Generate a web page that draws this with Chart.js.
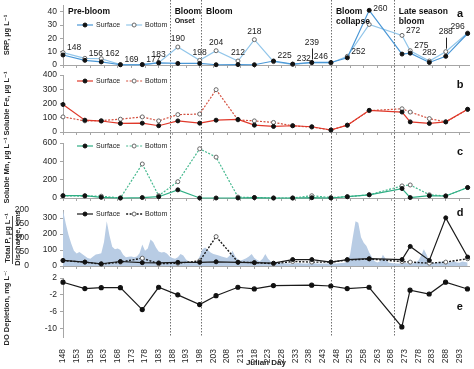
<!DOCTYPE html>
<html>
<head>
<meta charset="utf-8">
<script src="https://cdn.jsdelivr.net/npm/chart.js@4.4.1/dist/chart.umd.min.js"></script>
<style>
  html, body { margin: 0; padding: 0; background: #fff; }
  #fig { position: relative; width: 474px; height: 369px; }
  .panel { position: absolute; left: 0; width: 474px; }
</style>
</head>
<body>
<div id="fig">
  <div class="panel" style="top:0;height:70px"><canvas id="srp"></canvas></div>
  <div class="panel" style="top:70px;height:67px"><canvas id="fe"></canvas></div>
  <div class="panel" style="top:137px;height:66px"><canvas id="mn"></canvas></div>
  <div class="panel" style="top:203px;height:68px"><canvas id="tp"></canvas></div>
  <div class="panel" style="top:271px;height:98px"><canvas id="do"></canvas></div>
</div>
<script>
const FONT = "'Liberation Sans', 'DejaVu Sans', sans-serif";

// sampling days (Julian day)
const sampleDays = [148, 156, 162, 169, 177, 183, 190, 198, 204, 212, 218, 225, 232, 239, 246, 252, 260, 272, 275, 282, 288, 296];

// a - SRP, ug/L
const srpSurface = [7.5, 3.5, 2.3, 0.2, 0.3, 1.6, 1.2, 1.2, 0.2, 0.3, 0.2, 3, 0.7, 1.9, 1.9, 5.4, 41, 8.2, 8.9, 1.9, 6.5, 23.6];
const srpBottom = [9.3, 5, 4.7, 0.3, 0.3, 1.8, 13.5, 3.5, 10.7, 3, 19, 2.5, 0.5, 1.7, 1.5, 6.5, 30.4, 22.2, 10.7, 3, 10, 24];

// b - soluble Fe, ug/L
const feSurface = [193, 83, 77, 60, 62, 44, 78, 62, 83, 88, 48, 39, 44, 37, 14, 48, 152, 140, 71, 60, 71, 159];
const feBottom = [106, 78, 80, 90, 106, 78, 122, 126, 297, 85, 78, 67, 44, 34, 14, 48, 150, 163, 140, 94, 71, 159];

// c - soluble Mn, ug/L
const mnSurface = [25, 25, 7, 0, 5, 14, 89, 0, 0, 0, 5, 0, 0, 3, 0, 14, 35, 103, 5, 25, 22, 114];
const mnBottom = [25, 20, 20, 0, 371, 25, 178, 537, 446, 10, 5, 0, 0, 25, 5, 14, 35, 132, 142, 35, 22, 114];

// d - total P, ug/L
const tpSurface = [20, 14, 8, 16, 12, 11, 13, 13, 15, 13, 12, 10, 23, 23, 14, 23, 26, 23, 70, 20, 172, 32];
const tpBottom = [19, 14, 6, 14, 28, 8, 10, 18, 105, 14, 12, 8, 16, 14, 14, 21, 25, 16, 14, 10, 14, 26];

// d - daily discharge, cms, day 148 .. 296
const dischargeStart = 148;
const discharge = [
  350, 265, 195, 140, 95, 78, 88, 75, 62, 50,
  45, 60, 72, 75, 80, 150, 280, 190, 120, 105,
  110, 100, 70, 55, 58, 60, 55, 60, 80, 135,
  95, 110, 165, 150, 115, 90, 85, 88, 78, 60,
  50, 45, 55, 75, 65, 40, 28, 25, 22, 28,
  60, 105, 115, 100, 85, 75, 70, 66, 60, 55,
  50, 65, 95, 60, 40, 35, 40, 48, 60, 75,
  50, 38, 30, 45, 75, 45, 28, 22, 20, 18,
  18, 17, 17, 16, 16, 17, 18, 17, 16, 16,
  17, 18, 17, 16, 15, 15, 16, 16, 15, 15,
  16, 17, 18, 20, 30, 70, 180, 280, 270, 180,
  145, 125, 85, 55, 30, 22, 30, 70, 45, 22,
  18, 17, 16, 16, 17, 18, 17, 16, 17, 20,
  35, 65, 105, 70, 30, 20, 18, 20, 25, 30,
  22, 20, 25, 30, 22, 20, 28, 25, 22
];

// e - DO depletion, mg/L (no value on day 232)
const doDepletion = [1.0, -0.5, -0.3, -0.3, -5.5, -0.2, -2.0, -4.3, -2.2, -0.2, -0.6, 0.2, null, 0.3, 0.1, -0.5, -0.2, -9.6, -0.9, -1.8, 1.0, -0.6];

// phases
const phaseStarts = [148, 187, 198.5, 246, 269];
const phaseNames = [['Pre-bloom'], ['Bloom', 'Onset'], ['Bloom'], ['Bloom', 'collapse'], ['Late season', 'bloom']];

// tick labels
const xTicks = [148, 153, 158, 163, 168, 173, 178, 183, 188, 193, 198, 203, 208, 213, 218, 223, 228, 233, 238, 243, 248, 253, 258, 263, 268, 273, 278, 283, 288, 293];
const srpTicks = [0, 10, 20, 30, 40];
const feTicks = [0, 100, 200, 300, 400];
const mnTicks = [0, 100, 200, 300, 400, 500, 600];
const tpTicks = [0, 50, 100, 150, 200];
const qTicks = [0, 50, 100, 150, 200, 250, 300, 350];
const doTicks = [2, 0, -2, -4, -6, -8, -10, -12];

// where the day number sits next to each SRP sample: r=right, u=up, l=left, p=pointer
const labelPlace = 'rrrrruuuuuurrplrrrrupl';

Chart.defaults.font.family = FONT;
Chart.defaults.font.size = 8.5;
Chart.defaults.color = '#262626';
Chart.defaults.animation = false;

const AXIS_GREY = '#a6a6a6';
const MARK_R = 2;

const pairs = (xs, ys) => xs.map((x, i) => ({ x, y: ys[i] }));

function xAxis(isBottom) {
    return {
        type: 'linear',
        min: 148,
        max: 296.5,
        afterBuildTicks: s => { s.ticks = xTicks.map(v => ({ value: v })); },
        afterFit: s => { s.height = isBottom ? 32 : 3; s.paddingLeft = 0; s.paddingRight = 0; },
        grid: isBottom ? { display: false } : { drawOnChartArea: false, tickLength: 3, tickColor: AXIS_GREY },
        border: { display: !isBottom, color: AXIS_GREY },
        ticks: isBottom
            ? { autoSkip: false, minRotation: 90, maxRotation: 90, padding: 4, font: { size: 8.5 } }
            : { display: false },
        title: isBottom
            ? { display: true, text: 'Julian Day', font: { size: 8, weight: 'bold' }, padding: { top: 0, bottom: 1 } }
            : { display: false }
    };
}

function yAxis(ticksArr, min, max, title, opts = {}) {
    return {
        position: 'left',
        min,
        max,
        weight: opts.weight || 0,
        afterBuildTicks: s => { s.ticks = ticksArr.map(v => ({ value: v })); },
        afterFit: s => { s.width = opts.width || 63; s.paddingTop = 0; s.paddingBottom = 0; },
        grid: opts.grid || { drawOnChartArea: false, tickLength: 3, tickColor: AXIS_GREY },
        border: { display: opts.border !== false, color: AXIS_GREY },
        ticks: { padding: 3, font: { size: 8.5 } },
        title: title
            ? { display: true, text: title, font: { size: 7.5, weight: 'bold', lineHeight: opts.lineHeight || 1.2 }, padding: { top: 2, bottom: 0 } }
            : { display: false }
    };
}

function surfaceSet(ys, color, extra = {}) {
    return Object.assign({
        label: 'Surface',
        data: pairs(sampleDays, ys),
        borderColor: color,
        borderWidth: 1.2,
        pointRadius: MARK_R,
        pointBackgroundColor: '#111',
        pointBorderColor: '#111',
        pointBorderWidth: 1,
        clip: false,
        order: 1
    }, extra);
}

function bottomSet(ys, color, dashed, extra = {}) {
    return Object.assign({
        label: 'Bottom',
        data: pairs(sampleDays, ys),
        borderColor: color,
        borderWidth: 1.2,
        borderDash: dashed ? [2, 1.5] : [],
        pointRadius: MARK_R,
        pointBackgroundColor: '#fff',
        pointBorderColor: '#666',
        pointBorderWidth: 1,
        clip: false,
        order: 2
    }, extra);
}

// dotted phase boundaries, running through every panel
function phaseLines(stopAtArea) {
    return {
        id: 'phaseLines',
        beforeDatasetsDraw(chart) {
            const { ctx, scales: { x } } = chart;
            const bottom = stopAtArea ? chart.chartArea.bottom : chart.height;
            ctx.save();
            ctx.strokeStyle = '#707070';
            ctx.lineWidth = 1;
            ctx.setLineDash([1.5, 1.5]);
            phaseStarts.slice(1).forEach(d => {
                const px = Math.round(x.getPixelForValue(d)) + 0.5;
                ctx.beginPath();
                ctx.moveTo(px, 0);
                ctx.lineTo(px, bottom);
                ctx.stroke();
            });
            ctx.restore();
        }
    };
}

// panel letter and surface/bottom key
function panelDeco(letter, letterDy, legendDy) {
    return {
        id: 'panelDeco',
        afterDatasetsDraw(chart) {
            const { ctx, chartArea } = chart;
            ctx.save();
            ctx.fillStyle = '#111';
            ctx.font = 'bold 11px ' + FONT;
            ctx.textAlign = 'center';
            ctx.textBaseline = 'middle';
            ctx.fillText(letter, chartArea.right - 9, chartArea.top + letterDy);

            if (legendDy !== null) {
                const y = chartArea.top + legendDy;
                let x = chartArea.left + 14;
                ctx.font = '7px ' + FONT;
                ctx.textAlign = 'left';
                [0, 1].forEach(i => {
                    const ds = chart.data.datasets[i];
                    ctx.strokeStyle = ds.borderColor;
                    ctx.lineWidth = ds.borderWidth;
                    ctx.setLineDash(ds.borderDash || []);
                    ctx.beginPath();
                    ctx.moveTo(x, y);
                    ctx.lineTo(x + 16, y);
                    ctx.stroke();
                    ctx.setLineDash([]);
                    ctx.beginPath();
                    ctx.arc(x + 8, y, ds.pointRadius, 0, Math.PI * 2);
                    ctx.fillStyle = ds.pointBackgroundColor;
                    ctx.fill();
                    ctx.lineWidth = 1;
                    ctx.strokeStyle = ds.pointBorderColor;
                    ctx.stroke();
                    ctx.fillStyle = '#222';
                    ctx.fillText(ds.label, x + 19, y);
                    x += 19 + ctx.measureText(ds.label).width + 6;
                });
            }
            ctx.restore();
        }
    };
}

const phaseLabels = {
    id: 'phaseLabels',
    afterDatasetsDraw(chart) {
        const { ctx, chartArea, scales: { x } } = chart;
        ctx.save();
        ctx.fillStyle = '#111';
        ctx.textAlign = 'left';
        ctx.textBaseline = 'middle';
        phaseStarts.forEach((d, i) => {
            const px = x.getPixelForValue(d) + 5;
            phaseNames[i].forEach((line, j) => {
                ctx.font = (i === 1 && j === 1 ? 'bold 7px ' : 'bold 8.5px ') + FONT;
                ctx.fillText(line, px, chartArea.top + 7 + j * 9.5);
            });
        });
        ctx.restore();
    }
};

const dayLabels = {
    id: 'dayLabels',
    afterDatasetsDraw(chart) {
        const { ctx, chartArea } = chart;
        const m0 = chart.getDatasetMeta(0);
        const m1 = chart.getDatasetMeta(1);
        ctx.save();
        ctx.font = '8.5px ' + FONT;
        ctx.fillStyle = '#222';
        ctx.strokeStyle = '#222';
        ctx.lineWidth = 1;
        ctx.textBaseline = 'middle';
        sampleDays.forEach((d, i) => {
            const x = m0.data[i].x;
            const y = Math.min(m0.data[i].y, m1.data[i].y);
            const mode = labelPlace[i];
            let tx = x, ty = y - 8, align = 'center';
            if (mode === 'r') { tx = x + 4; ty = y - 5; align = 'left'; }
            else if (mode === 'l') { tx = x - 3; ty = y - 6; align = 'right'; }
            else if (mode === 'p') {
                ty = y - 20;
                ctx.beginPath();
                ctx.moveTo(Math.round(x) + 0.5, y - 14);
                ctx.lineTo(Math.round(x) + 0.5, y - 3);
                ctx.stroke();
            }
            ty = Math.max(ty, chartArea.top + 4);
            ctx.textAlign = align;
            ctx.fillText(String(d), tx, ty);
        });
        ctx.restore();
    }
};

// divider between the two stacked titles of panel d
const titleDivider = {
    id: 'titleDivider',
    afterDraw(chart) {
        const { ctx, chartArea } = chart;
        ctx.save();
        ctx.strokeStyle = '#222';
        ctx.lineWidth = 0.8;
        ctx.beginPath();
        ctx.moveTo(12.5, chartArea.top + 6);
        ctx.lineTo(12.5, chartArea.bottom - 2);
        ctx.stroke();
        ctx.restore();
    }
};

function baseOptions(padding, scales) {
    return {
        responsive: true,
        maintainAspectRatio: false,
        animation: false,
        events: [],
        layout: { padding },
        elements: { line: { tension: 0 } },
        plugins: { legend: { display: false }, tooltip: { enabled: false } },
        scales
    };
}

new Chart(document.getElementById('srp'), {
    type: 'line',
    data: {
        datasets: [
            surfaceSet(srpSurface, '#4a97d6'),
            bottomSet(srpBottom, '#92c6ea', false)
        ]
    },
    options: baseOptions({ top: 2, bottom: 1, left: 0, right: 2.5 }, {
        x: xAxis(false),
        y: yAxis(srpTicks, 0, 45, 'SRP, µg L⁻¹')
    }),
    plugins: [phaseLines(false), phaseLabels, dayLabels, panelDeco('a', 9, 20)]
});

new Chart(document.getElementById('fe'), {
    type: 'line',
    data: {
        datasets: [
            surfaceSet(feSurface, '#e0392b'),
            bottomSet(feBottom, '#d4503f', true)
        ]
    },
    options: baseOptions({ top: 5, bottom: 1, left: 0, right: 2.5 }, {
        x: xAxis(false),
        y: yAxis(feTicks, 0, 400, 'Soluble Fe, µg L⁻¹')
    }),
    plugins: [phaseLines(false), panelDeco('b', 10, 6)]
});

new Chart(document.getElementById('mn'), {
    type: 'line',
    data: {
        datasets: [
            surfaceSet(mnSurface, '#2fae84'),
            bottomSet(mnBottom, '#46b98f', true)
        ]
    },
    options: baseOptions({ top: 6, bottom: 1, left: 0, right: 2.5 }, {
        x: xAxis(false),
        y: yAxis(mnTicks, 0, 600, 'Soluble Mn, µg L⁻¹')
    }),
    plugins: [phaseLines(false), panelDeco('c', 9, 3)]
});

new Chart(document.getElementById('tp'), {
    type: 'line',
    data: {
        datasets: [
            surfaceSet(tpSurface, '#1a1a1a', { yAxisID: 'yP' }),
            bottomSet(tpBottom, '#1a1a1a', true, { yAxisID: 'yP', borderWidth: 1.4 }),
            {
                label: 'Discharge',
                data: discharge.map((v, i) => ({ x: dischargeStart + i, y: v })),
                yAxisID: 'yQ',
                borderWidth: 0,
                borderColor: 'rgba(0,0,0,0)',
                backgroundColor: '#b8cce4',
                fill: 'origin',
                pointRadius: 0,
                order: 5
            }
        ]
    },
    options: baseOptions({ top: 7, bottom: 1, left: 0, right: 2.5 }, {
        x: xAxis(false),
        yP: yAxis(tpTicks, 0, 200, ['Total P, µg L⁻¹', 'Discharge, cms'],
            { width: 40, weight: 1, grid: { display: false }, border: false, lineHeight: 1.45 }),
        yQ: yAxis(qTicks, 0, 350, null, { width: 23, weight: 0 })
    }),
    plugins: [phaseLines(false), panelDeco('d', 3, 4), titleDivider]
});

new Chart(document.getElementById('do'), {
    type: 'line',
    data: {
        datasets: [{
            label: 'DO depletion',
            data: pairs(sampleDays, doDepletion),
            spanGaps: true,
            borderColor: '#1a1a1a',
            borderWidth: 1.2,
            pointRadius: MARK_R,
            pointBackgroundColor: '#111',
            pointBorderColor: '#111',
            clip: false
        }]
    },
    options: baseOptions({ top: 7, bottom: 0, left: 0, right: 2.5 }, {
        x: xAxis(true),
        y: yAxis(doTicks, -12, 2, 'DO Depletion, mg L⁻¹', {
            grid: {
                drawOnChartArea: true,
                tickLength: 3,
                tickColor: AXIS_GREY,
                color: c => (c.tick && c.tick.value === 0 ? AXIS_GREY : 'rgba(0,0,0,0)')
            }
        })
    }),
    plugins: [phaseLines(true), panelDeco('e', 29, null)]
});
</script>
</body>
</html>
